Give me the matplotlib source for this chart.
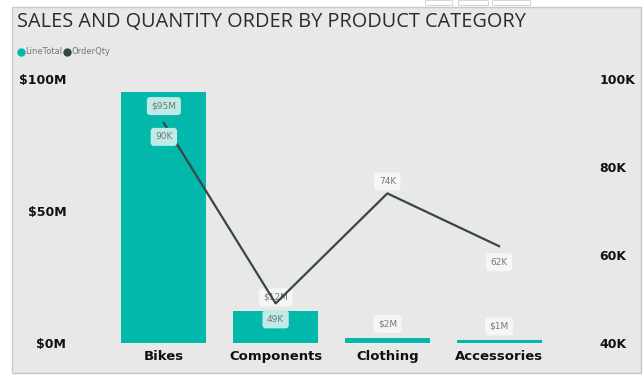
import matplotlib.pyplot as plt
from matplotlib.patches import Rectangle
from matplotlib.lines import Line2D

categories = ['Bikes', 'Components', 'Clothing', 'Accessories']
line_total = [95, 12, 2, 1]          # $M
order_qty = [90, 49, 74, 62]         # K
sales_labels = ['$95M', '$12M', '$2M', '$1M']
qty_labels = ['90K', '49K', '74K', '62K']
left_ticks = [0, 50, 100]
left_ticklabels = ['$0M', '$50M', '$100M']
right_ticks = [40, 60, 80, 100]
right_ticklabels = ['40K', '60K', '80K', '100K']

teal = '#01B8AA'
dark = '#374649'
panel = '#e8e8e8'

W, H = 644, 381
fig = plt.figure(figsize=(W / 100, H / 100), dpi=100)
fig.patch.set_facecolor('white')

# report panel behind the visual
fig.add_artist(Rectangle((12 / W, 1 - 373 / H), (641 - 12) / W, (373 - 7) / H,
                         transform=fig.transFigure, fc=panel, ec='#c8c8c8', lw=1, zorder=0))
# little header buttons on top edge
for x0, x1 in [(425, 452), (458, 488), (492, 530)]:
    fig.add_artist(Rectangle((x0 / W, 1 - 5 / H), (x1 - x0) / W, 5 / H,
                             transform=fig.transFigure, fc='white', ec='#d0d0d0', lw=0.6))

fig.text(17 / W, 1 - 22 / H, 'SALES AND QUANTITY ORDER BY PRODUCT CATEGORY',
         fontsize=14.3, color='#2b2b2b', va='center', ha='left', family='Open Sans')

# legend
fig.add_artist(Line2D([20.5 / W], [1 - 52 / H], marker='o', ms=5, color=teal, transform=fig.transFigure))
fig.text(25.5 / W, 1 - 52 / H, 'LineTotal', fontsize=6, color='#777777', va='center')
fig.add_artist(Line2D([67 / W], [1 - 52 / H], marker='o', ms=5, color=dark, transform=fig.transFigure))
fig.text(72 / W, 1 - 52 / H, 'OrderQty', fontsize=6, color='#777777', va='center')

ax = fig.add_axes([108 / W, 1 - 343 / H, (555 - 108) / W, (343 - 79) / H])
ax.set_facecolor('none')
x = list(range(len(categories)))
ax.bar(x, line_total, width=0.76, color=teal, zorder=2)
ax.set_xlim(-0.5, 3.5)
ax.set_ylim(0, 100)
ax.set_yticks(left_ticks)
ax.set_yticklabels(left_ticklabels, fontsize=9, fontweight='bold', color='#111111')
ax.set_xticks(x)
ax.set_xticklabels(categories, fontsize=9.5, fontweight='bold', color='#111111')
ax.tick_params(axis='y', length=0, pad=30)
ax.tick_params(axis='x', length=0, pad=5)
for s in ax.spines.values():
    s.set_visible(False)
for t in left_ticks:
    ax.axhline(t, xmin=-0.07, xmax=1.08, color='#ebebeb', lw=0.8, zorder=1, clip_on=False)

ax2 = ax.twinx()
ax2.set_ylim(40, 100)
ax2.set_yticks(right_ticks)
ax2.set_yticklabels(right_ticklabels, fontsize=9, fontweight='bold', color='#111111')
ax2.tick_params(axis='y', length=0, pad=32)
for s in ax2.spines.values():
    s.set_visible(False)
ax2.plot(x, order_qty, color=dark, lw=1.6, zorder=3)

box_on_bar = dict(boxstyle='round,pad=0.5,rounding_size=0.35', fc='#bfeae5', ec='none')
box_off = dict(boxstyle='round,pad=0.5,rounding_size=0.35', fc='#f6f6f6', ec='none')

# bar labels: inside end if it fits, otherwise outside end
for i, v in enumerate(line_total):
    inside = v > 50
    ax.annotate(sales_labels[i], (i, v), xytext=(0, -10 if inside else 10), textcoords='offset points',
                ha='center', va='center', fontsize=6.5, color='#777777',
                bbox=box_on_bar if inside else box_off, zorder=5)

qty_offsets = [-10, -11.5, 8.5, -11.5]
for i, v in enumerate(order_qty):
    on_bar = (i == 0) or (i == 1)
    ax2.annotate(qty_labels[i], (i, v), xytext=(0, qty_offsets[i]), textcoords='offset points',
                 ha='center', va='center', fontsize=6.5, color='#777777',
                 bbox=box_on_bar if on_bar else box_off, zorder=5)

fig.savefig('out.png', dpi=100)
